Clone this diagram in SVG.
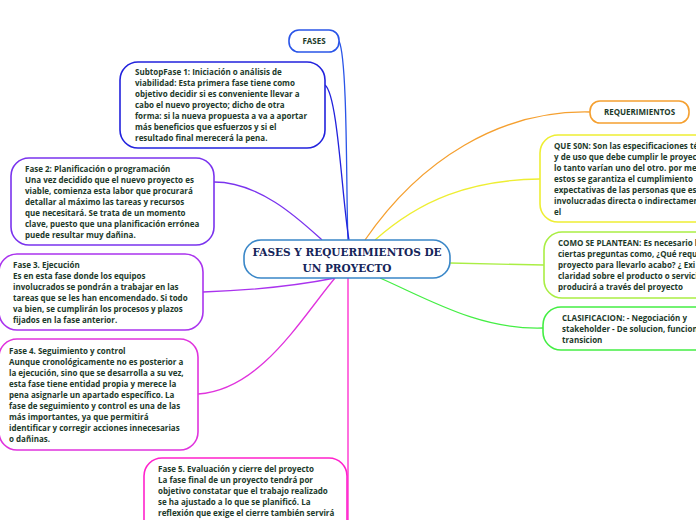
<svg xmlns="http://www.w3.org/2000/svg" width="696" height="520" viewBox="0 0 696 520">
<style>
.n{fill:#fff;stroke-width:1.6}
.t{font-family:"Open Sans",sans-serif;font-size:8px;font-weight:700;fill:#1c3a2a}
.c{fill:none;stroke-width:1.3}
.h{font-family:"DejaVu Serif",serif;font-size:10.5px;font-weight:bold;fill:#15255a}
</style>
<rect width="696" height="520" fill="#fff"/>
<g id="connectors">
<path class="c" stroke="#2a55e8" d="M339,41 C348,60 346,200 348,240"/>
<path class="c" stroke="#2222dd" d="M325,85 C338,95 342,200 349,240"/>
<path class="c" stroke="#7a33ee" d="M214,182 C260,182 300,220 322,240"/>
<path class="c" stroke="#aa33ee" d="M203,292 C260,290 300,285 335,278"/>
<path class="c" stroke="#e033dd" d="M198,394 C260,390 300,320 335,278"/>
<path class="c" stroke="#ff22cc" d="M348,278 L348,520"/>
<path class="c" stroke="#f5a030" d="M590,112 C500,110 420,160 365,240"/>
<path class="c" stroke="#eeee33" d="M540,179 C470,180 420,200 375,240"/>
<path class="c" stroke="#aaee44" d="M544,265 L450,263"/>
<path class="c" stroke="#44ee44" d="M543,328 C480,330 430,300 380,278"/>
</g>
<g id="center"><rect class="n" x="244" y="240" width="206" height="38" rx="17" stroke="#3a87c8"/>
<text class="h" text-anchor="middle"><tspan x="347" y="256">FASES Y REQUERIMIENTOS DE</tspan><tspan x="347" y="272">UN PROYECTO</tspan></text></g>
<g id="fases"><rect class="n" x="289" y="30" width="50" height="22" rx="10" stroke="#2a55e8"/><text class="t" x="314" y="44" text-anchor="middle">FASES</text></g>
<g id="fase1"><rect class="n" x="120" y="62" width="205" height="86" rx="18" stroke="#2222dd"/>
<text class="t"><tspan x="135" y="75">SubtopFase 1: Iniciación o análisis de</tspan><tspan x="135" y="86">viabilidad: Esta primera fase tiene como</tspan><tspan x="135" y="97">objetivo decidir si es conveniente llevar a</tspan><tspan x="135" y="108">cabo el nuevo proyecto; dicho de otra</tspan><tspan x="135" y="119">forma: si la nueva propuesta a va a aportar</tspan><tspan x="135" y="130">más beneficios que esfuerzos y si el</tspan><tspan x="135" y="141">resultado final merecerá la pena.</tspan></text></g>
<g id="fase2"><rect class="n" x="11" y="158" width="203" height="87" rx="18" stroke="#7a33ee"/>
<text class="t"><tspan x="25" y="172">Fase 2: Planificación o programación</tspan><tspan x="25" y="183">Una vez decidido que el nuevo proyecto es</tspan><tspan x="25" y="194">viable, comienza esta labor que procurará</tspan><tspan x="25" y="205">detallar al máximo las tareas y recursos</tspan><tspan x="25" y="216">que necesitará. Se trata de un momento</tspan><tspan x="25" y="227">clave, puesto que una planificación errónea</tspan><tspan x="25" y="238">puede resultar muy dañina.</tspan></text></g>
<g id="fase3"><rect class="n" x="-1" y="254" width="204" height="76" rx="18" stroke="#aa33ee"/>
<text class="t"><tspan x="13" y="268">Fase 3. Ejecución</tspan><tspan x="13" y="279">Es en esta fase donde los equipos</tspan><tspan x="13" y="290">involucrados se pondrán a trabajar en las</tspan><tspan x="13" y="301">tareas que se les han encomendado. Si todo</tspan><tspan x="13" y="312">va bien, se cumplirán los procesos y plazos</tspan><tspan x="13" y="323">fijados en la fase anterior.</tspan></text></g>
<g id="fase4"><rect class="n" x="-1" y="339" width="199" height="111" rx="18" stroke="#e033dd"/>
<text class="t"><tspan x="9" y="354">Fase 4. Seguimiento y control</tspan><tspan x="9" y="365">Aunque cronológicamente no es posterior a</tspan><tspan x="9" y="376">la ejecución, sino que se desarrolla a su vez,</tspan><tspan x="9" y="387">esta fase tiene entidad propia y merece la</tspan><tspan x="9" y="398">pena asignarle un apartado específico. La</tspan><tspan x="9" y="409">fase de seguimiento y control es una de las</tspan><tspan x="9" y="420">más importantes, ya que permitirá</tspan><tspan x="9" y="431">identificar y corregir acciones innecesarias</tspan><tspan x="9" y="442">o dañinas.</tspan></text></g>
<g id="fase5"><rect class="n" x="144" y="458" width="203" height="80" rx="18" stroke="#ff22cc"/>
<text class="t"><tspan x="158" y="472">Fase 5. Evaluación y cierre del proyecto</tspan><tspan x="158" y="483">La fase final de un proyecto tendrá por</tspan><tspan x="158" y="494">objetivo constatar que el trabajo realizado</tspan><tspan x="158" y="505">se ha ajustado a lo que se planificó. La</tspan><tspan x="158" y="516">reflexión que exige el cierre también servirá</tspan></text></g>
<g id="req"><rect class="n" x="590" y="101" width="99" height="22" rx="10" stroke="#f5a030"/><text class="t" x="639.5" y="115" text-anchor="middle">REQUERIMIENTOS</text></g>
<g id="queson"><rect class="n" x="540" y="135" width="180" height="87" rx="18" stroke="#eeee33"/>
<text class="t"><tspan x="554" y="149">QUE S0N: Son las especificaciones té</tspan><tspan x="554" y="160">y de uso que debe cumplir le proyecto</tspan><tspan x="554" y="171">lo tanto varían uno del otro. por me</tspan><tspan x="554" y="182">estos se garantiza el cumplimiento</tspan><tspan x="554" y="193">expectativas de las personas que es</tspan><tspan x="554" y="204">involucradas directa o indirectamen</tspan><tspan x="554" y="215">el</tspan></text></g>
<g id="como"><rect class="n" x="544" y="232" width="176" height="66" rx="18" stroke="#aaee44"/>
<text class="t"><tspan x="558" y="246">COMO SE PLANTEAN: Es necesario h</tspan><tspan x="558" y="257">ciertas preguntas como, ¿Qué requ</tspan><tspan x="558" y="268">proyecto para llevarlo acabo? ¿ Exi</tspan><tspan x="558" y="279">claridad sobre el producto o servici</tspan><tspan x="558" y="290">producirá a través del proyecto</tspan></text></g>
<g id="clasif"><rect class="n" x="543" y="307" width="177" height="43" rx="18" stroke="#44ee44"/>
<text class="t"><tspan x="562" y="321">CLASIFICACION: - Negociación y</tspan><tspan x="562" y="332">stakeholder - De solucion, funcion</tspan><tspan x="562" y="343">transicion</tspan></text></g>
</svg>
